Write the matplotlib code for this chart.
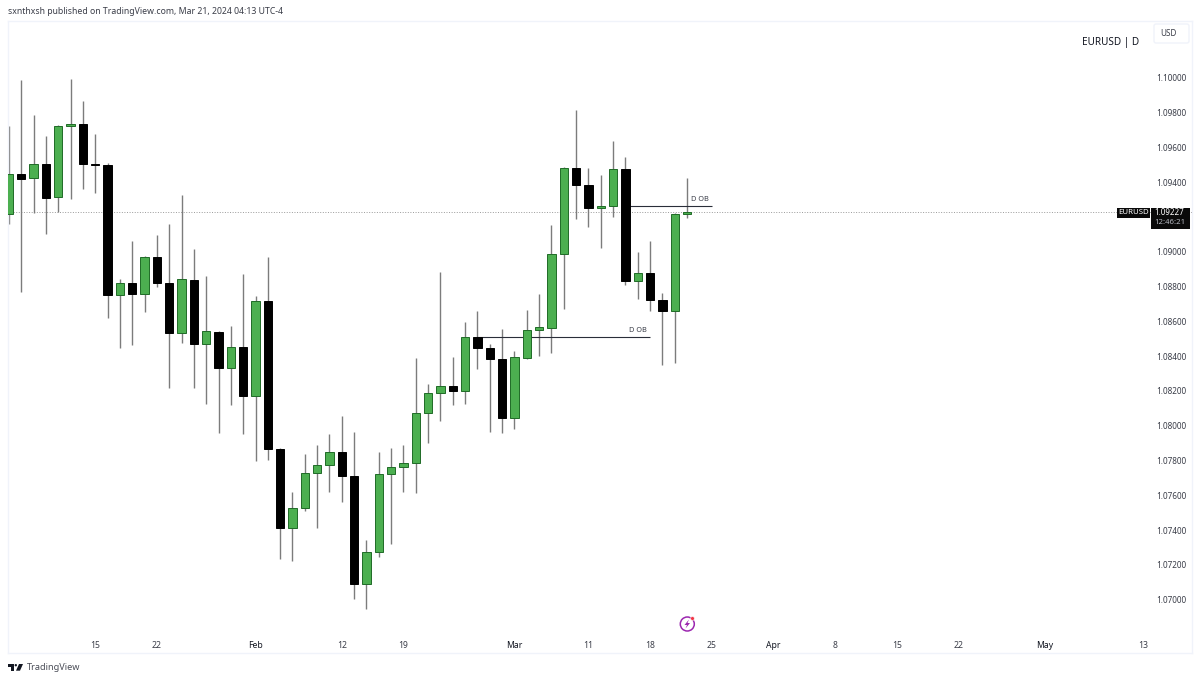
import matplotlib
matplotlib.use('Agg')
import matplotlib.pyplot as plt
from matplotlib.patches import Circle, Polygon, FancyBboxPatch, Rectangle

plt.rcParams['font.family'] = ['Noto Sans', 'DejaVu Sans']

opens = [1.09218, 1.09448, 1.09423, 1.09504, 1.09314, 1.09722, 1.09735, 1.09507, 1.09501, 1.08750,
         1.08819, 1.08758, 1.08972, 1.08823, 1.08532, 1.08840, 1.08468, 1.08541, 1.08330, 1.08453,
         1.08173, 1.08716, 1.07866, 1.07413, 1.07528, 1.07730, 1.07776, 1.07850, 1.07712, 1.07088,
         1.07272, 1.07722, 1.07761, 1.07787, 1.08073, 1.08190, 1.08227, 1.08201, 1.08510, 1.08449,
         1.08382, 1.08043, 1.08391, 1.08552, 1.08564, 1.08986, 1.09482, 1.09386, 1.09252, 1.09262,
         1.09478, 1.08832, 1.08880, 1.08723, 1.08660, 1.09218]
highs = [1.09724, 1.09988, 1.09787, 1.09665, 1.09728, 1.09994, 1.09869, 1.09676, 1.09509, 1.08844,
         1.09062, 1.08976, 1.09095, 1.09158, 1.09325, 1.09018, 1.08861, 1.08545, 1.08572, 1.08873,
         1.08746, 1.08972, 1.07870, 1.07620, 1.07836, 1.07887, 1.07952, 1.08056, 1.07962, 1.07341,
         1.07847, 1.07872, 1.07889, 1.08388, 1.08240, 1.08882, 1.08395, 1.08597, 1.08658, 1.08472,
         1.08556, 1.08428, 1.08666, 1.08756, 1.09153, 1.09486, 1.09816, 1.09481, 1.09442, 1.09639,
         1.09547, 1.08999, 1.09062, 1.08763, 1.09222, 1.09427]
lows = [1.09160, 1.08769, 1.09225, 1.09103, 1.09229, 1.09306, 1.09360, 1.09337, 1.08619, 1.08447,
        1.08466, 1.08656, 1.08800, 1.08215, 1.08477, 1.08215, 1.08127, 1.07960, 1.08121, 1.07951,
        1.07797, 1.07804, 1.07232, 1.07224, 1.07509, 1.07413, 1.07619, 1.07559, 1.07002, 1.06947,
        1.07243, 1.07318, 1.07619, 1.07615, 1.07899, 1.08025, 1.08118, 1.08127, 1.08328, 1.07962,
        1.07960, 1.07979, 1.08382, 1.08401, 1.08420, 1.08673, 1.09191, 1.09145, 1.09024, 1.09202,
        1.08808, 1.08729, 1.08658, 1.08347, 1.08362, 1.09195]
closes = [1.09446, 1.09421, 1.09504, 1.09311, 1.09724, 1.09735, 1.09507, 1.09500, 1.08752, 1.08819,
          1.08758, 1.08972, 1.08823, 1.08532, 1.08842, 1.08468, 1.08543, 1.08330, 1.08453, 1.08173,
          1.08716, 1.07866, 1.07413, 1.07528, 1.07730, 1.07776, 1.07849, 1.07711, 1.07088, 1.07272,
          1.07722, 1.07761, 1.07785, 1.08073, 1.08190, 1.08227, 1.08201, 1.08510, 1.08449, 1.08382,
          1.08043, 1.08393, 1.08552, 1.08566, 1.08986, 1.09482, 1.09386, 1.09252, 1.09262, 1.09478,
          1.08832, 1.08880, 1.08723, 1.08660, 1.09218, 1.09227]

last_price = 1.09227
ob_upper = 1.09262
ob_lower = 1.08510

price_ticks = [1.10, 1.098, 1.096, 1.094, 1.09, 1.088, 1.086, 1.084, 1.082, 1.08,
               1.078, 1.076, 1.074, 1.072, 1.07]
time_ticks = [7, 12, 20, 27, 32, 41, 47, 52, 57, 62, 67, 72, 77, 84, 92]
time_labels = ['15', '22', 'Feb', '12', '19', 'Mar', '11', '18', '25', 'Apr', '8', '15', '22', 'May', '13']
months = ['Feb', 'Mar', 'Apr', 'May']

green = '#4caf50'
green_edge = '#1f6b27'
wick = '#7c7c7c'
frame = '#f0f3fa'
text_col = '#3a3d48'

fig = plt.figure(figsize=(12, 6.81), dpi=100)
ax = fig.add_axes([8 / 1200, 1 - 653 / 681, 1184 / 1200, 632.5 / 681])   # chart pane
ax.set_xlim(-0.073, 95.95)
ax.set_ylim(1.066926, 1.103307)

x = list(range(len(opens)))
ax.axhline(last_price, color='#9a9a9a', linestyle=':', linewidth=0.7, zorder=1)
ax.vlines(x, lows, highs, color=wick, linewidth=1, zorder=2)

for i in x:
    up = closes[i] >= opens[i]
    ax.bar(i, abs(closes[i] - opens[i]), bottom=min(opens[i], closes[i]), width=0.68,
           color=green if up else 'black', edgecolor=green_edge if up else 'black',
           linewidth=0.7, zorder=3)

# D OB levels
ax.hlines(ob_upper, 50, 57, color='#2a2e39', linewidth=0.8, zorder=2)
ax.hlines(ob_lower, 38, 52, color='#2a2e39', linewidth=0.8, zorder=2)
ax.annotate('D OB', (57, ob_upper), xytext=(-2, 2.5), textcoords='offset points', ha='right', va='bottom',
            fontsize=5.3, color=text_col)
ax.annotate('D OB', (52, ob_lower), xytext=(-2, 2.5), textcoords='offset points', ha='right', va='bottom',
            fontsize=5.3, color=text_col)

ax.yaxis.tick_right()
ax.set_yticks(price_ticks)
ax.set_yticklabels(['%.5f' % p for p in price_ticks])
ax.set_xticks(time_ticks)
ax.set_xticklabels(time_labels)
ax.tick_params(axis='y', length=0, pad=-25.9, labelsize=5.9, labelcolor=text_col)
ax.tick_params(axis='x', length=0, pad=-8.8, labelsize=6.2, labelcolor=text_col)
for lab in ax.get_xticklabels():
    if lab.get_text() in months:
        lab.set_color('#131722')
for s in ax.spines.values():
    s.set_color(frame)
    s.set_linewidth(1)

# everything around the chart, in pixel coordinates
top = fig.add_axes([0, 0, 1, 1])
top.set_xlim(0, 1200)
top.set_ylim(681, 0)
top.axis('off')
top.patch.set_alpha(0)

top.text(8, 12, 'sxnthxsh published on TradingView.com, Mar 21, 2024 04:13 UTC-4', fontsize=6.25,
         color=text_col, va='center')
top.text(1139, 42.7, 'EURUSD | D', fontsize=7.2, color='#131722', va='center', ha='right')
top.add_patch(FancyBboxPatch((1155, 25), 33, 17, boxstyle='round,pad=1,rounding_size=2',
                             facecolor='white', edgecolor=frame, linewidth=1))
top.text(1160.7, 33.5, 'USD', fontsize=5.8, color=text_col, va='center')

# last price labels
top.add_patch(Rectangle((1116.7, 207.7), 33.3, 10.3, facecolor='#0a0a0a', edgecolor='none'))
top.add_patch(Rectangle((1150.5, 207.7), 39.5, 21, facecolor='#0a0a0a', edgecolor='none'))
top.text(1133.3, 212.8, 'EURUSD', fontsize=5.6, color='white', ha='center', va='center')
top.text(1169.5, 212.8, '%.5f' % last_price, fontsize=5.8, color='white', ha='center', va='center', fontweight='bold')
top.text(1169.5, 223, '12:46:21', fontsize=5.6, color='#b8bbc4', ha='center', va='center')

# TradingView logo
logo = '#131722'
top.add_patch(Polygon([(8, 664), (14, 664), (14, 670.7), (11, 670.7), (11, 666.5), (8, 666.5)], facecolor=logo))
top.add_patch(Circle((15.8, 665.2), 1.2, facecolor=logo))
top.add_patch(Polygon([(19, 664), (23, 664), (20, 670.7), (16, 670.7)], facecolor=logo))
top.text(26.5, 667.5, 'TradingView', fontsize=6.6, color='#4a4d57', va='center')

# lightning badge
purple = '#9c27b0'
top.add_patch(Circle((687.3, 624), 7, facecolor='white', edgecolor=purple, linewidth=1.1))
top.add_patch(Polygon([(689, 619.5), (684.5, 625), (687, 625), (685.5, 628.5), (690, 623), (687.5, 623)], facecolor=purple))
top.add_patch(Circle((692.5, 618.5), 1.9, facecolor='#f23645', edgecolor='white', linewidth=0.4))

fig.savefig('out.png', dpi=100)
